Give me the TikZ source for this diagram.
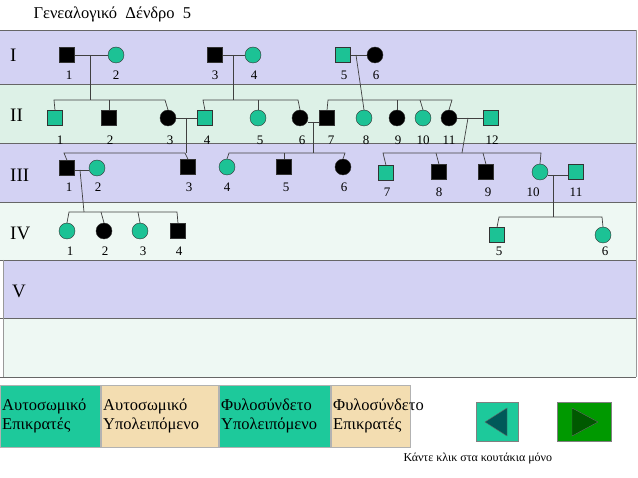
\documentclass[tikz,border=0pt]{standalone}
\usepackage{fontspec}
\setmainfont{Liberation Serif}
\begin{document}
\begin{tikzpicture}[x=1pt,y=-1pt,
  sq/.style={draw=black!80,minimum size=15pt,inner sep=0pt,fill=#1},
  ci/.style={circle,draw=black!80,minimum size=16pt,inner sep=0pt,fill=#1},
  lb/.style={font=\fontsize{13}{13}\selectfont,inner sep=0pt},
  gen/.style={font=\fontsize{19}{19}\selectfont,anchor=west,inner sep=0pt},
  ln/.style={draw=black!75,line width=0.7pt},
  btn/.style={draw=black!30,minimum height=62pt,anchor=north west,align=left,font=\fontsize{16.5}{19}\selectfont,inner sep=2pt,text width=#1}]
\definecolor{tg}{HTML}{1CC295}
\definecolor{lav}{HTML}{D3D2F3}
\definecolor{lgr}{HTML}{DDF1E7}
\definecolor{vlg}{HTML}{EEF8F3}
\useasboundingbox (0,0) rectangle (638,478);
\fill[white] (0,0) rectangle (638,478);
% bands
\fill[lav] (0,30) rectangle (636,84);
\fill[lgr] (0,84) rectangle (636,143);
\fill[lav] (0,143) rectangle (636,202);
\fill[vlg] (0,202) rectangle (636,260);
\fill[lav] (3,260) rectangle (636,318);
\fill[vlg] (3,318) rectangle (636,377);
\foreach \y in {30,84,143,202,260,318,377} \draw[black!60] (0,\y) -- (636,\y);
\draw[black!40] (3,260) -- (3,377);
\draw[black!40] (636,30) -- (636,377);
\node[anchor=west,font=\fontsize{16.5}{16.5}\selectfont] (title) at (30,14) {Γενεαλογικό \ Δένδρο \ 5};
\node[gen] (gI) at (10,55) {I};
\node[gen] (gII) at (10,115) {II};
\node[gen] (gIII) at (10,175) {III};
\node[gen] (gIV) at (10,233) {IV};
\node[gen] (gV) at (12,291) {V};
% Gen I
\node[sq=black] (a1) at (67,55) {}; \node[ci=tg] (a2) at (116,55) {};
\node[sq=black] (a3) at (215,55) {}; \node[ci=tg] (a4) at (253,55) {};
\node[sq=tg] (a5) at (343,55) {}; \node[ci=black] (a6) at (375,55) {};
\foreach \n/\x in {1/69,2/116,3/215,4/254,5/344,6/376} \node[lb] (la\n) at (\x,75) {\n};
% Gen II
\node[sq=tg] (b1) at (55,118) {}; \node[sq=black] (b2) at (109,118) {};
\node[ci=black] (b3) at (168,118) {}; \node[sq=tg] (b4) at (205,118) {};
\node[ci=tg] (b5) at (258,118) {}; \node[ci=black] (b6) at (300,118) {};
\node[sq=black] (b7) at (327,118) {}; \node[ci=tg] (b8) at (364,118) {};
\node[ci=black] (b9) at (397,118) {}; \node[ci=tg] (b10) at (423,118) {};
\node[ci=black] (b11) at (449,118) {}; \node[sq=tg] (b12) at (491,118) {};
\foreach \n/\x in {1/60,2/110,3/170,4/207,5/260,6/302,7/331,8/366,9/398,10/423,11/449,12/492} \node[lb] (lb\n) at (\x,140) {\n};
% Gen III
\node[sq=black] (c1) at (67,168) {}; \node[ci=tg] (c2) at (97,168) {};
\node[sq=black] (c3) at (188,167) {}; \node[ci=tg] (c4) at (227,167) {};
\node[sq=black] (c5) at (284,167) {}; \node[ci=black] (c6) at (343,167) {};
\node[sq=tg] (c7) at (386,173) {}; \node[sq=black] (c8) at (439,172) {};
\node[sq=black] (c9) at (486,172) {}; \node[ci=tg] (c10) at (540,172) {};
\node[sq=tg] (c11) at (576,172) {};
\foreach \n/\x in {1/69,2/98,3/189,4/227,5/286,6/344} \node[lb] (lc\n) at (\x,187) {\n};
\foreach \n/\x in {7/387,8/439,9/488,10/533,11/576} \node[lb] (lc\n) at (\x,192) {\n};
% Gen IV
\node[ci=tg] (d1) at (67,231) {}; \node[ci=black] (d2) at (104,231) {};
\node[ci=tg] (d3) at (140,231) {}; \node[sq=black] (d4) at (178,231) {};
\node[sq=tg] (d5) at (497,235) {}; \node[ci=tg] (d6) at (603,235) {};
\foreach \n/\x in {1/70,2/105,3/143,4/179,5/499,6/605} \node[lb] (ld\n) at (\x,251) {\n};
% couples
\draw[ln] (a1) -- (a2); \draw[ln] (a3) -- (a4); \draw[ln] (a5) -- (a6);
\draw[ln] (b3) -- (b4); \draw[ln] (b11) -- (b12);
\draw[ln] (b6.east |- 0,122) -- (b7.west |- 0,122);
\draw[ln] (c1.east |- 0,170) -- (c2.west |- 0,170);
\draw[ln] (c10.east |- 0,175) -- (c11.west |- 0,175);
% I-1/2 children
\draw[ln] (90,55) -- (90,100);
\draw[ln] (b1.north) -- (54,100) -- (165,100) -- (b3.north);
\draw[ln] (b2.north) -- (109,100);
% I-3/4
\draw[ln] (233,55) -- (233,100);
\draw[ln] (b4.north) -- (203,100) -- (298,100) -- (b6.north);
\draw[ln] (b5.north) -- (258,100);
% I-5/6
\draw[ln] (356,55) -- (b8.north);
\draw[ln] (b7.north) -- (328,100) -- (452,100) -- (b11.north);
\draw[ln] (b9.north) -- (397,100); \draw[ln] (b10.north) -- (420,100);
% II-3/4
\draw[ln] (186,118) -- (186,153);
\draw[ln] (c1.north) -- (64,153) -- (185,153) -- (c3.north);
% II-6/7
\draw[ln] (313,122) -- (313,153);
\draw[ln] (c4.north) -- (229,153) -- (345,153) -- (c6.north);
\draw[ln] (c5.north) -- (284,153);
% II-11/12
\draw[ln] (468,118) -- (462,153);
\draw[ln] (c7.north) -- (383,153) -- (541,153) -- (c10.north);
\draw[ln] (c8.north) -- (436,153); \draw[ln] (c9.north) -- (483,153);
% III-1/2
\draw[ln] (80,170) -- (84,212);
\draw[ln] (d1.north) -- (69,212) -- (177,212) -- (d4.north);
\draw[ln] (d2.north) -- (101,212); \draw[ln] (d3.north) -- (138,212);
% III-10/11
\draw[ln] (553,175) -- (553,217);
\draw[ln] (d5.north) -- (499,217) -- (602,217) -- (d6.north);
% buttons
\definecolor{bg}{HTML}{1DC99B}
\definecolor{bb}{HTML}{F3DDB1}
\node[btn=96pt,fill=bg] (k1) at (0,385) {Αυτοσωμικό\\Επικρατές};
\node[btn=113pt,fill=bb] (k2) at (101,385) {Αυτοσωμικό\\Υπολειπόμενο};
\node[btn=107pt,fill=bg] (k3) at (219,385) {Φυλοσύνδετο\\Υπολειπόμενο};
\node[btn=75pt,fill=bb] (k4) at (331,385) {Φυλοσύνδετο\\Επικρατές};
\node[draw=black!50,fill=bg,minimum width=42pt,minimum height=39pt,inner sep=0pt] (nl) at (497,422) {};
\node[draw=black!50,fill=green!60!black,minimum width=54pt,minimum height=39pt,inner sep=0pt] (nr) at (584,422) {};
\fill[teal!70!black,draw=black!60] ([xshift=-12pt]nl.center) -- ([xshift=10pt,yshift=-14pt]nl.center) -- ([xshift=10pt,yshift=14pt]nl.center) -- cycle;
\fill[green!35!black,draw=black!60] ([xshift=14pt]nr.center) -- ([xshift=-12pt,yshift=-14pt]nr.center) -- ([xshift=-12pt,yshift=14pt]nr.center) -- cycle;
\node[anchor=west,font=\fontsize{12}{12}\selectfont] (cap) at (400,459) {Κάντε κλικ στα κουτάκια μόνο};
\end{tikzpicture}
\end{document}
